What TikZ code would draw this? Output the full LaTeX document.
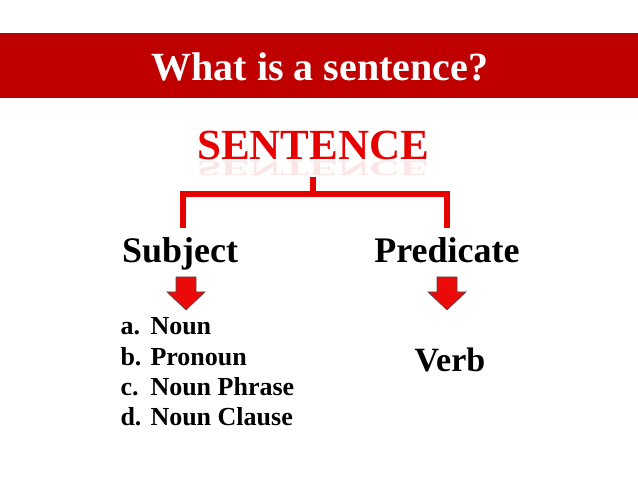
\documentclass[tikz,border=0pt]{standalone}
\usepackage{fontspec}
\setmainfont{Liberation Serif}
\definecolor{banner}{RGB}{190,0,0}
\definecolor{brred}{RGB}{230,0,0}
\definecolor{arred}{RGB}{235,10,10}
\begin{document}
\begin{tikzpicture}[x=1pt,y=-1pt,
 bracket/.style={line width=6pt,brred},
 word/.style={anchor=base,font=\bfseries\fontsize{36}{40}\selectfont},
 item/.style={anchor=base west,font=\bfseries\fontsize{26}{30}\selectfont},
 redarrow/.pic={\draw[fill=arred,draw=black!70,line width=0.6pt,line join=miter]
   (-10,0)--(10,0)--(10,15)--(19,15)--(0,33)--(-19,15)--(-10,15)--cycle;}]
 \useasboundingbox (0,0) rectangle (638,478);
 \fill[banner] (0,33) rectangle (638,98);
 \node[anchor=base,white,font=\bfseries\fontsize{40}{48}\selectfont] (title) at (320,81) {What is a sentence?};
 \node[anchor=base,brred,font=\bfseries\fontsize{43}{50}\selectfont] (sentence) at (313,160) {SENTENCE};
 \node[anchor=base,brred,opacity=0.1,yscale=-0.5,transform shape,font=\bfseries\fontsize{43}{50}\selectfont] (mirror) at (313,162) {SENTENCE};
 \coordinate (stem) at (313,177);
 \coordinate (bar) at (313,194);
 \coordinate (subjtop) at (183,228);
 \coordinate (predtop) at (447,228);
 \draw[bracket] (stem) -- (bar);
 \draw[bracket] (subjtop) |- (bar) -| (predtop);
 \node[word] (subject) at (180,263) {Subject};
 \node[word] (predicate) at (447,263) {Predicate};
 \pic at (186,277) {redarrow};
 \pic at (447,277) {redarrow};
 \node[item] (noun) at (117,335) {\makebox[30pt][l]{a.}Noun};
 \node[item] (pronoun) at (117,366) {\makebox[30pt][l]{b.}Pronoun};
 \node[item] (phrase) at (117,396) {\makebox[30pt][l]{c.}Noun Phrase};
 \node[item] (clause) at (117,426) {\makebox[30pt][l]{d.}Noun Clause};
 \node[anchor=base,font=\bfseries\fontsize{34}{40}\selectfont] (verb) at (450,372) {Verb};
\end{tikzpicture}
\end{document}
